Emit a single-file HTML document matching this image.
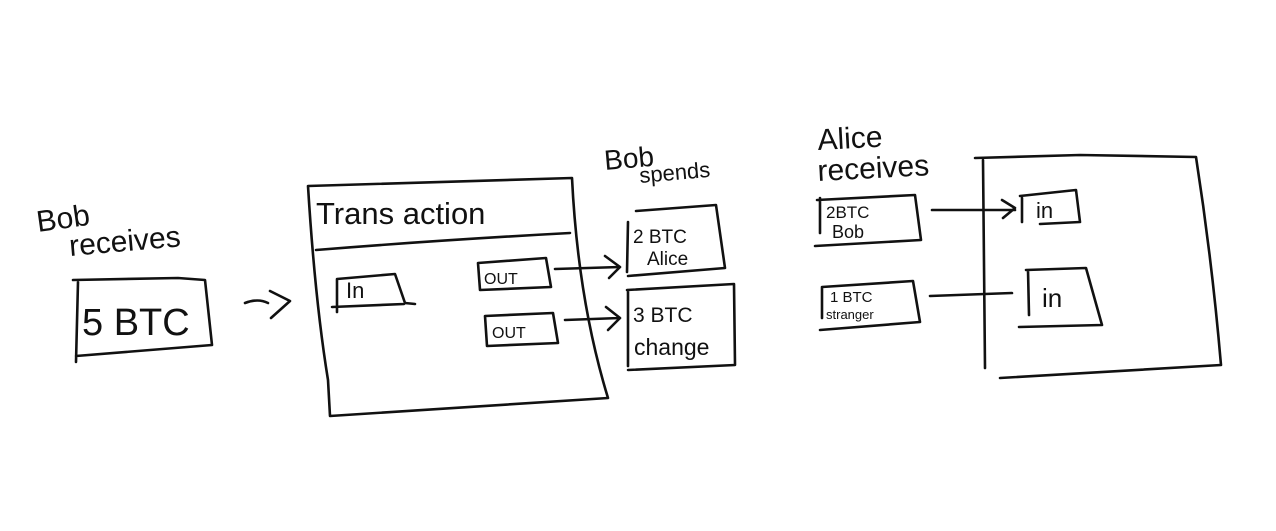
<!DOCTYPE html>
<html><head><meta charset="utf-8"><style>
html,body{margin:0;padding:0;background:#fff}
svg{display:block}
text{font-family:"Liberation Sans",sans-serif;fill:#111}
</style></head><body>
<svg width="1276" height="531" viewBox="0 0 1276 531" xmlns="http://www.w3.org/2000/svg">
<g fill="none" stroke="#111" stroke-width="2.6" stroke-linecap="round" stroke-linejoin="round">
<!-- Bob receives box -->
<path d="M73,280 L178,278 L205,280 L212,345 L76,356 M78,282 L76,362"/>
<!-- arrow -->
<path d="M245,303 Q258,298 268,303 M270,291 L290,301 L271,318"/>
<!-- Transaction box -->
<path d="M308,186 L572,178 Q578,300 608,398 L330,416 L328,380 Q315,300 308,186"/>
<path d="M316,250 Q440,240 570,233"/>
<!-- IN box -->
<path d="M337,312 L337,279 L395,274 L405,303 L415,304 M332,307 L404,304"/>
<!-- OUT boxes -->
<path d="M478,263 L546,258 L551,287 L480,290 Z"/>
<path d="M485,316 L553,313 L558,343 L487,346 Z"/>
<!-- arrows -->
<path d="M555,269 L620,267 M605,256 L620,267 L609,278"/>
<path d="M565,320 L620,318 M606,307 L620,318 L608,330"/>
<!-- 2BTC Alice -->
<path d="M636,211 L716,205 L725,268 L628,276 M628,222 L627,272"/>
<!-- 3BTC change -->
<path d="M627,290 L734,284 L735,365 L628,370 M628,290 L628,366"/>
<!-- 2BTC Bob -->
<path d="M817,200 L915,195 L921,240 L815,246 M820,198 L820,233"/>
<!-- 1BTC stranger -->
<path d="M822,287 L913,281 L920,322 L820,330 M822,287 L822,318"/>
<!-- big box -->
<path d="M975,158 L1080,155 L1196,157 Q1212,260 1221,365 L1000,378"/>
<path d="M983,160 L985,368"/>
<path d="M932,210 L1015,210 M1002,200 L1015,208 L1003,218"/>
<path d="M930,296 L1012,293"/>
<!-- in boxes -->
<path d="M1020,196 L1076,190 L1080,222 L1040,224 M1022,198 L1022,222"/>
<path d="M1026,270 L1086,268 L1102,325 L1019,327 M1028,270 L1029,315"/>
</g>
<text x="38" y="232" font-size="30" transform="rotate(-8 38 232)">Bob</text>
<text x="70" y="256" font-size="30" transform="rotate(-5 70 256)">receives</text>
<text x="82" y="335" font-size="38">5 BTC</text>
<text x="316" y="224" font-size="31">Trans action</text>
<text x="346" y="298" font-size="22">In</text>
<text x="484" y="284" font-size="16">OUT</text>
<text x="492" y="338" font-size="16">OUT</text>
<text x="605" y="170" font-size="28" transform="rotate(-5 605 170)">Bob</text>
<text x="640" y="183" font-size="22" transform="rotate(-5 640 183)">spends</text>
<text x="633" y="243" font-size="19">2 BTC</text>
<text x="647" y="265" font-size="19">Alice</text>
<text x="633" y="322" font-size="21">3 BTC</text>
<text x="634" y="355" font-size="23">change</text>
<text x="818" y="150" font-size="30" transform="rotate(-3 818 150)">Alice</text>
<text x="818" y="181" font-size="30" transform="rotate(-3 818 181)">receives</text>
<text x="826" y="218" font-size="17">2BTC</text>
<text x="832" y="238" font-size="18">Bob</text>
<text x="830" y="302" font-size="15">1 BTC</text>
<text x="826" y="319" font-size="13">stranger</text>
<text x="1036" y="218" font-size="22">in</text>
<text x="1042" y="307" font-size="26">in</text>
</svg>
</body></html>
